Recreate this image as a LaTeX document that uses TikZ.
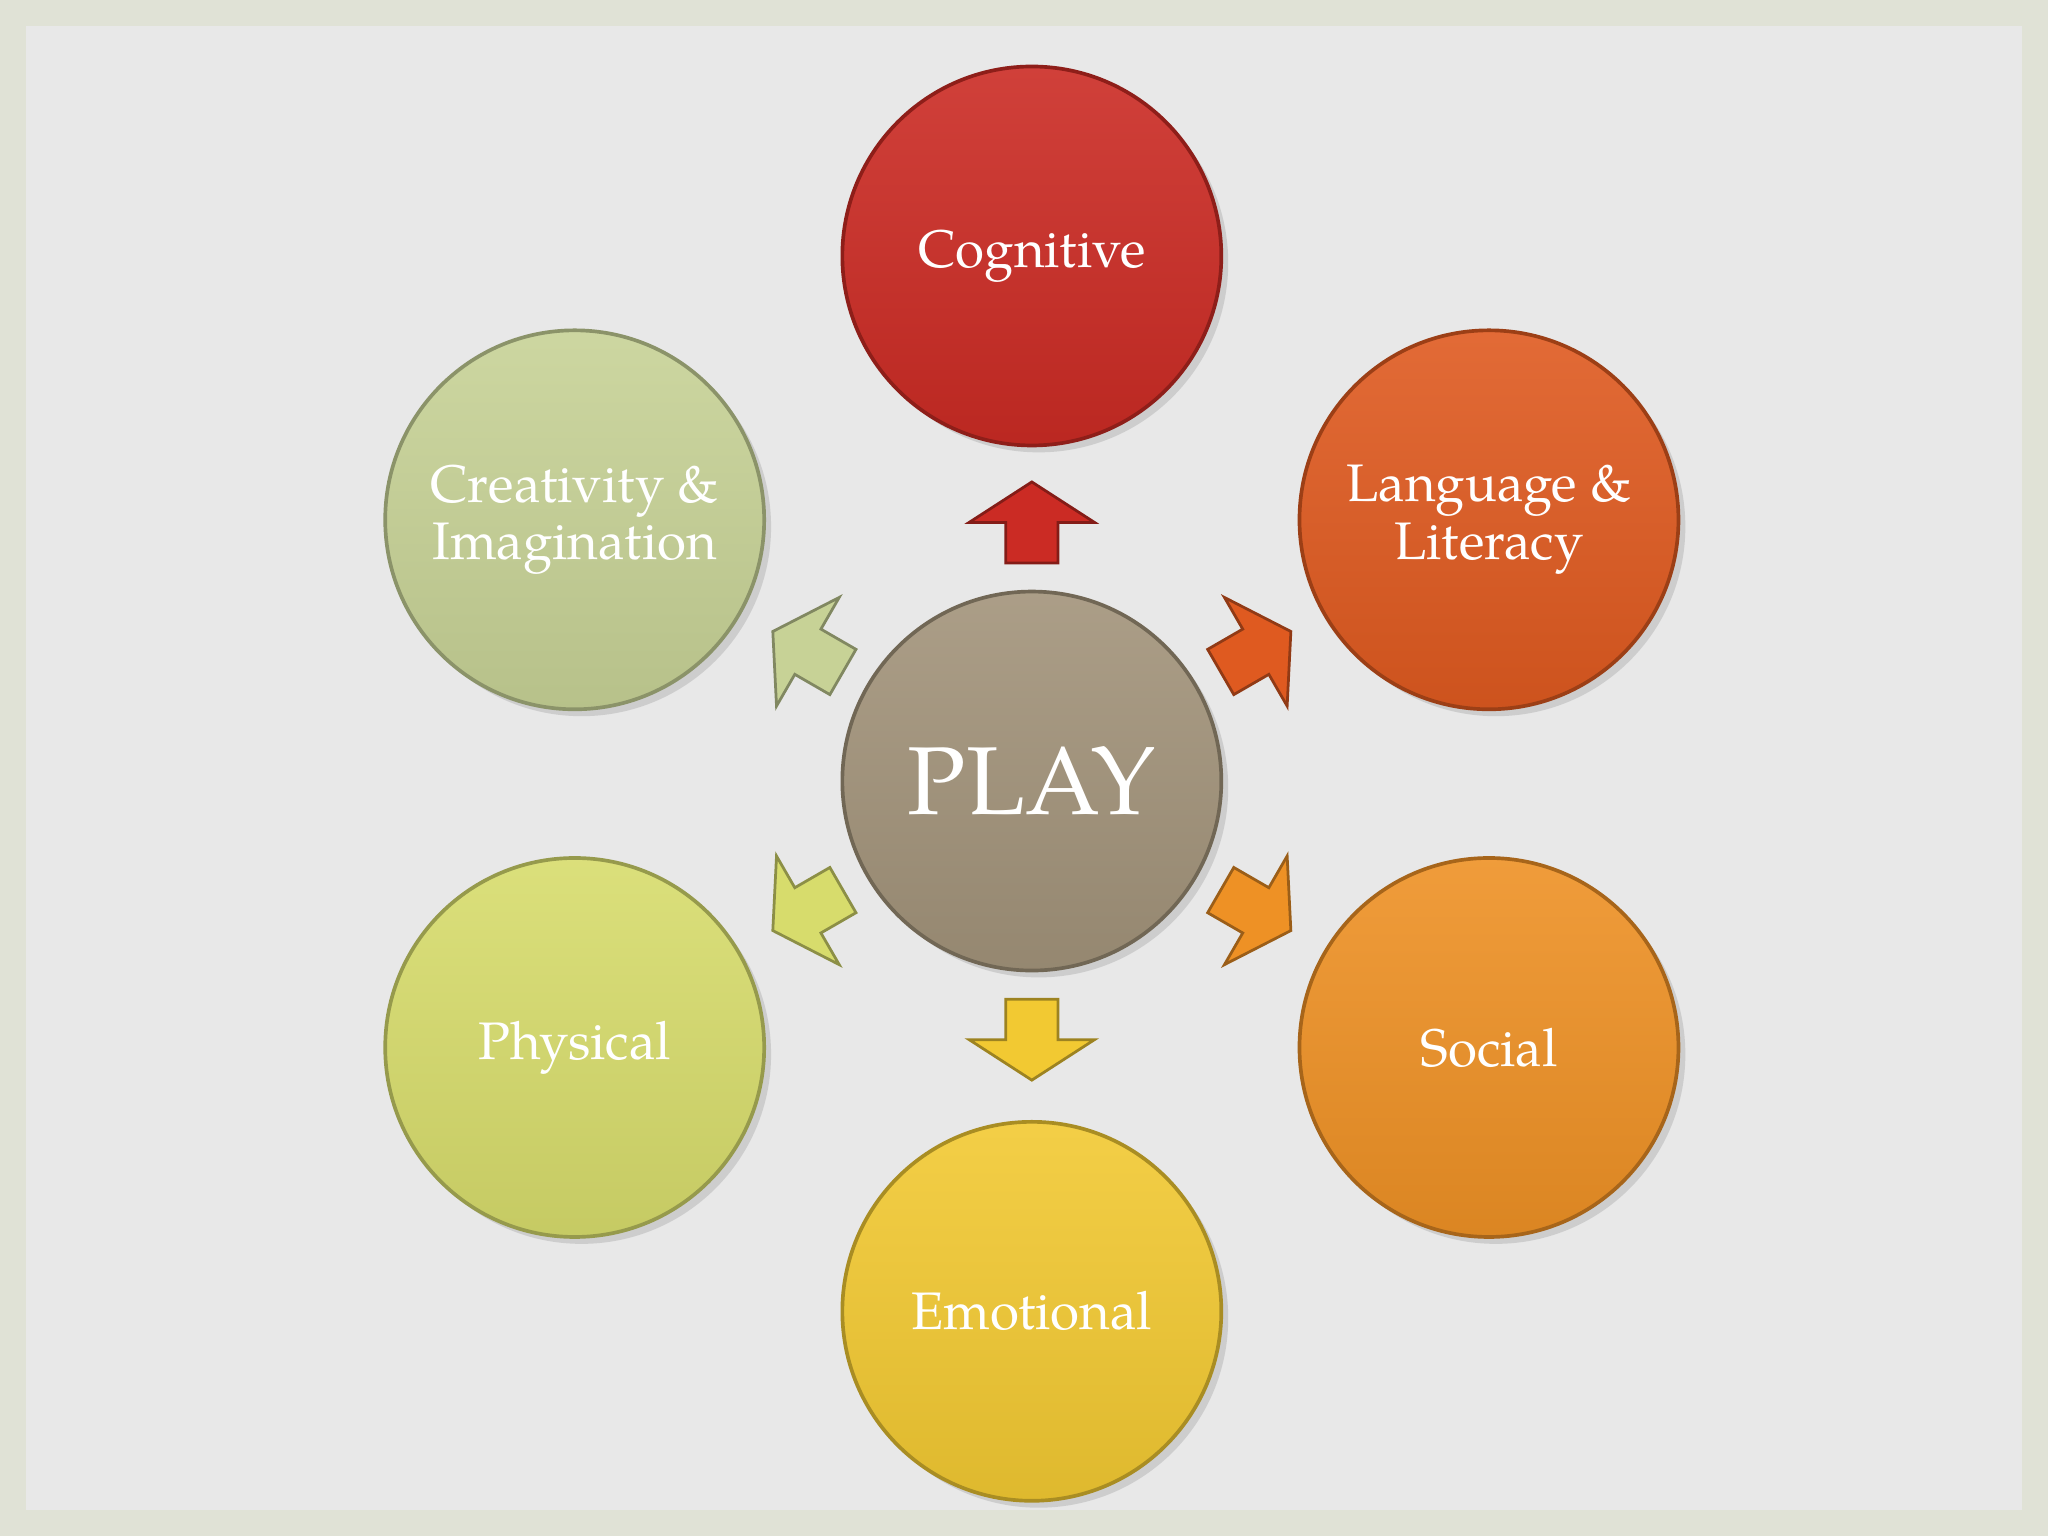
\documentclass[tikz,border=0pt]{standalone}
\usepackage{fontspec}
\setmainfont{TeX Gyre Pagella}
\usetikzlibrary{shadows}
\begin{document}
\begin{tikzpicture}[x=0.01cm,y=0.01cm,
  bub/.style={circle,minimum size=2.9cm,inner sep=0,draw=#1!70!black,line width=0.8pt,
    top color=#1!90!white,bottom color=#1!92!black,text=white,font=\fontsize{11.5}{12.5}\selectfont,align=center,
    drop shadow={shadow xshift=1.5pt,shadow yshift=-1.5pt,opacity=.25}},
  arr/.style={fill=#1,draw=#1!65!black,line width=0.6pt}]
\definecolor{bord}{HTML}{E0E2D6}
\fill[bord] (0,0) rectangle (1568,1176);
\fill[black!9] (20,20) rectangle (1548,1156);
\definecolor{cog}{HTML}{CB2B24}
\definecolor{lan}{HTML}{DF5A20}
\definecolor{soc}{HTML}{EE9125}
\definecolor{emo}{HTML}{F2C932}
\definecolor{phy}{HTML}{D7DC6C}
\definecolor{cre}{HTML}{C7D296}
\definecolor{ply}{HTML}{A2937A}
\node[bub=ply,font=\fontsize{21}{23}\selectfont] (play) at (790,578) {PLAY};
\node[bub=cog] (cog) at (790,980) {Cognitive};
\node[bub=lan] (lan) at (1140,778) {Language \&\\Literacy};
\node[bub=soc] (soc) at (1140,374) {Social};
\node[bub=emo] (emo) at (790,172) {Emotional};
\node[bub=phy] (phy) at (440,374) {Physical};
\node[bub=cre] (cre) at (440,778) {Creativity \&\\Imagination};
\foreach \a/\c in {90/cog,30/lan,-30/soc,-90/emo,210/phy,150/cre}{
  \draw[arr=\c,shift={(play.center)},rotate=\a,shift={(198,0)}]
    (-31,-20) -- (0,-20) -- (0,-48) -- (31,0) -- (0,48) -- (0,20) -- (-31,20) -- cycle;
}
\end{tikzpicture}
\end{document}
